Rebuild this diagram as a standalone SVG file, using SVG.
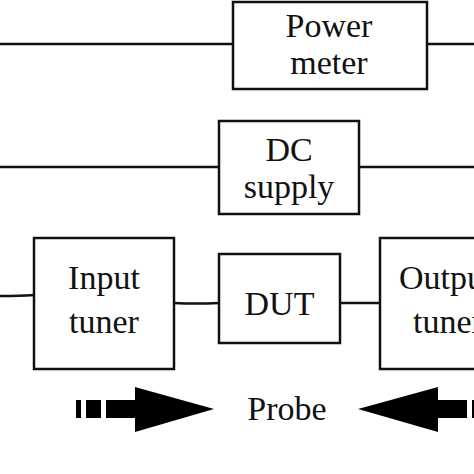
<svg xmlns="http://www.w3.org/2000/svg" width="474" height="474" viewBox="0 0 474 474">
<style>
.box{fill:#fff;stroke:#111;stroke-width:2.5}
.wire{fill:none;stroke:#111;stroke-width:2.5}
text{font-family:"Liberation Serif","Times New Roman",serif;font-size:34px;fill:#111;text-anchor:middle}
</style>
<rect width="474" height="474" fill="#fff"/>
<g id="connectors">
<line class="wire" x1="0" y1="44" x2="233" y2="44"/>
<line class="wire" x1="427" y1="44" x2="474" y2="44"/>
<line class="wire" x1="0" y1="167" x2="219" y2="167"/>
<line class="wire" x1="359" y1="167" x2="474" y2="167"/>
<path class="wire" d="M0,296 Q20,296 34,295"/>
<path class="wire" d="M174,303 Q196,304 219,303"/>
<line class="wire" x1="340" y1="303" x2="380" y2="303"/>
</g>
<g id="power-meter">
<rect class="box" x="233" y="2" width="194" height="87"/>
<text x="329" y="37">Power</text>
<text x="329" y="74">meter</text>
</g>
<g id="dc-supply">
<rect class="box" x="219" y="121" width="140" height="93"/>
<text x="289" y="161">DC</text>
<text x="289" y="198">supply</text>
</g>
<g id="input-tuner">
<rect class="box" x="34" y="238" width="140" height="131"/>
<text x="104" y="289">Input</text>
<text x="104" y="333">tuner</text>
</g>
<g id="dut">
<rect class="box" x="219" y="254" width="121" height="89"/>
<text x="279.5" y="315">DUT</text>
</g>
<g id="output-tuner">
<rect class="box" x="380" y="238" width="110" height="131"/>
<text x="399" y="289" style="text-anchor:start">Output</text>
<text x="413" y="333" style="text-anchor:start">tuner</text>
</g>
<g id="probe">
<rect x="76" y="400" width="5" height="18" fill="#000"/>
<rect x="86" y="400" width="15" height="18" fill="#000"/>
<polygon points="106,400 135,400 135,387 214,409 135,432 135,418 106,418" fill="#000"/>
<polygon points="358,409 438,387 438,400 467,400 467,418 438,418 438,432" fill="#000"/>
<rect x="472" y="400" width="2" height="18" fill="#000"/>
<text x="287" y="420">Probe</text>
</g>
</svg>
